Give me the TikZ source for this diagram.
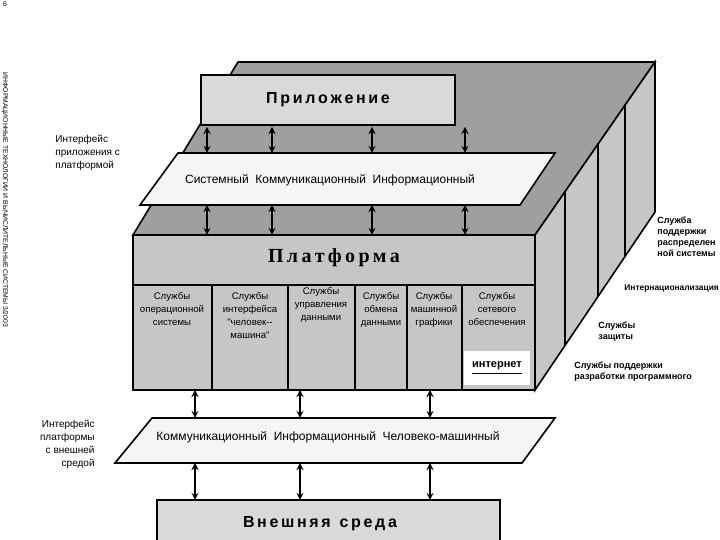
\documentclass[tikz,border=0pt]{standalone}
\usepackage{fontspec}
\setmainfont{Liberation Serif}
\newfontfamily\sans{Liberation Sans}
\tikzset{
    txt/.style={font=\sans\fontsize{5}{6.5}\selectfont, align=center},
    lbl/.style={font=\sans\bfseries\fontsize{4.5}{5.5}\selectfont, align=left, anchor=north west, inner sep=0pt},
    col/.style={anchor=north, inner sep=0pt, font=\sans\fontsize{4.8}{6.5}\selectfont, align=center},
    link/.style={<->, >=stealth, semithick},
}
\begin{document}
\begin{tikzpicture}[x=0.5pt, y=-0.5pt]
    \useasboundingbox (0,0) rectangle (720,540);
    % journal margin
    \node[font=\sans\fontsize{3.5}{4}\selectfont] (pg) at (5,4) {6};
    \node[font=\sans\fontsize{3.4}{4}\selectfont, rotate=-90] (journal) at (5,200) {ИНФОРМАЦИОННЫЕ ТЕХНОЛОГИИ И ВЫЧИСЛИТЕЛЬНЫЕ СИСТЕМЫ 3/2003};

    % block of the platform
    \draw[thick, fill=gray!75] (133,235) -- (238,62) -- (655,62) -- (535,235) -- cycle;
    \draw[thick, fill=gray!45] (535,235) -- (655,62) -- (655,212) -- (535,390) -- cycle;
    \draw[thick] (565,191) -- (565,346);
    \draw[thick] (598,143) -- (598,297);
    \draw[thick] (625,104) -- (625,257);
    \draw[thick, fill=gray!45] (133,235) rectangle (535,390);
    \node[font=\bfseries\fontsize{10}{12}\selectfont] (platform) at (334,258) {П\,л\,а\,т\,ф\,о\,р\,м\,а};
    \draw[thick] (133,285) -- (535,285);
    \foreach \x in {212,288,355,407,462}
        \draw[thick] (\x,285) -- (\x,390);
    \node[col] (os) at (172,292) {Службы\\операционной\\системы};
    \node[col] (hmi) at (250,292) {Службы\\интерфейса\\"человек--\\машина"};
    \node[col] (dbms) at (321,287) {Службы\\управления\\данными};
    \node[col] (xchg) at (381,292) {Службы\\обмена\\данными};
    \node[col] (gfx) at (434,292) {Службы\\машинной\\графики};
    \node[col] (net) at (497,292) {Службы\\сетевого\\обеспечения};
    \node[fill=white, minimum width=33pt, minimum height=17pt, font=\sans\bfseries\fontsize{5.5}{6}\selectfont] (inet) at (497,368) {\underline{интернет}};

    % application
    \node[draw, thick, fill=gray!30, minimum width=127pt, minimum height=25pt, font=\sans\bfseries\fontsize{8}{9}\selectfont] (app) at (328,100) {П\,р\,и\,л\,о\,ж\,е\,н\,и\,е};

    % upper interface
    \draw[thick, fill=gray!8] (178,153) -- (555,153) -- (520,205) -- (140,205) -- cycle;
    \node[txt, font=\sans\fontsize{6}{7}\selectfont] (upper) at (330,180) {Системный\ \ Коммуникационный\ \ Информационный};
    \foreach \x in {207,272,372,465} {
        \draw[link] (\x,127) -- (\x,153);
        \draw[link] (\x,205) -- (\x,235);
    }

    % lower interface
    \draw[thick, fill=gray!8] (152,418) -- (555,418) -- (522,463) -- (115,463) -- cycle;
    \node[txt, font=\sans\fontsize{6}{7}\selectfont] (lower) at (328,437) {Коммуникационный\ \ Информационный\ \ Человеко-машинный};
    \foreach \x in {195,300,430} {
        \draw[link] (\x,390) -- (\x,418);
        \draw[link] (\x,463) -- (\x,500);
    }

    % environment
    \draw[thick, fill=gray!30] (157,545) -- (157,500) -- (500,500) -- (500,545);
    \node[font=\sans\bfseries\fontsize{8}{9}\selectfont] (env) at (320,524) {В\,н\,е\,ш\,н\,я\,я\ \ с\,р\,е\,д\,а};

    % side labels
    \node[txt, align=left, anchor=north west, inner sep=0pt] (ifapp) at (55,135) {Интерфейс\\приложения с\\платформой};
    \node[txt, align=right, anchor=north east, inner sep=0pt] (ifenv) at (95,420) {Интерфейс\\платформы\\с внешней\\средой};
    \node[lbl] (distr) at (657,217) {Служба\\поддержки\\распределен\\ной системы};
    \node[lbl, font=\sans\bfseries\fontsize{4.2}{5}\selectfont] (intl) at (624,284) {Интернационализация};
    \node[lbl] (sec) at (598,322) {Службы\\защиты};
    \node[lbl] (dev) at (574,362) {Службы поддержки\\разработки программного};
\end{tikzpicture}
\end{document}
